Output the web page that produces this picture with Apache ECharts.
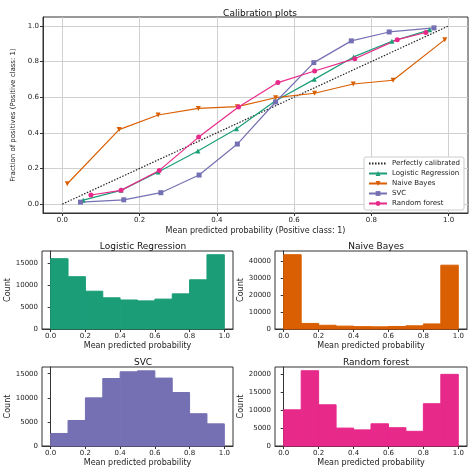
<!DOCTYPE html>
<html><head><meta charset="utf-8">
<script src="https://cdn.jsdelivr.net/npm/echarts@6/dist/echarts.min.js"></script>
<style>html,body{margin:0;padding:0;background:#fff}#main{width:474px;height:474px}</style>
</head><body><div id="main"></div>
<script>
// calibration curves: [mean predicted, fraction of positives]
var lrCurve = [[0.054,0.022],[0.152,0.077],[0.248,0.18],[0.351,0.298],[0.451,0.423],[0.55,0.577],[0.652,0.70],[0.754,0.826],[0.853,0.914],[0.951,0.978]];
var nbCurve = [[0.013,0.114],[0.147,0.418],[0.248,0.50],[0.352,0.537],[0.453,0.547],[0.552,0.597],[0.653,0.622],[0.753,0.674],[0.856,0.695],[0.99,0.923]];
var svcCurve = [[0.047,0.011],[0.159,0.024],[0.255,0.064],[0.354,0.163],[0.453,0.337],[0.552,0.573],[0.651,0.794],[0.748,0.916],[0.846,0.966],[0.962,0.989]];
var rfCurve = [[0.074,0.051],[0.152,0.077],[0.251,0.189],[0.353,0.376],[0.456,0.545],[0.558,0.682],[0.653,0.747],[0.757,0.816],[0.867,0.923],[0.941,0.963]];
var diagonal = [[0,0],[1,1]];

// histogram counts, 10 bins on [0,1]
var binEdges = [0,0.1,0.2,0.3,0.4,0.5,0.6,0.7,0.8,0.9,1.0];
var lrCounts = [16000,11900,8600,7100,6600,6400,6800,8000,11200,16900];
var nbCounts = [44000,3300,2200,1700,1400,1300,1500,1900,3000,37800];
var svcCounts = [2600,5300,10000,14000,15400,15600,14100,11100,6700,4600];
var rfCounts = [10100,21000,11500,5000,4500,6200,5100,4100,11800,20000];

var ticks01 = [0,0.2,0.4,0.6,0.8,1.0];
var colors = ['#1b9e77','#d95f02','#7570b3','#e7298a'];
var font = 'DejaVu Sans';

var myChart = echarts.init(document.getElementById('main'));

function fmt(v){ return v.toFixed(1); }

function xAxisFor(idx, name) {
	return {
		type: 'value', gridIndex: idx, min: -0.05, max: 1.05,
		name: name, nameLocation: 'middle', nameGap: idx == 0 ? 14 : 13,
		nameTextStyle: {fontFamily: font, fontSize: 8, color: '#222'},
		axisLine: {onZero: false, lineStyle: {color: '#333'}},
		axisTick: {customValues: ticks01, length: 3, lineStyle: {color: '#333'}},
		axisLabel: {customValues: ticks01, formatter: fmt, fontFamily: font, fontSize: 7, color: '#222', margin: 4},
		splitLine: {show: idx == 0, lineStyle: {color: '#d0d0d0'}}
	};
}
function yAxisFor(idx, max, interval, name) {
	return {
		type: 'value', gridIndex: idx, min: 0, max: max, interval: interval,
		name: name, nameLocation: 'middle', nameGap: 28,
		nameTextStyle: {fontFamily: font, fontSize: 8, color: '#222'},
		axisLine: {show: true, lineStyle: {color: '#333'}},
		axisTick: {show: true, length: 3, lineStyle: {color: '#333'}},
		axisLabel: {showMaxLabel: false, formatter: function(v){ return String(v); },
			fontFamily: font, fontSize: 7, color: '#222', margin: 4},
		splitLine: {show: false}
	};
}

function histSeries(idx, counts, color) {
	var data = [];
	for (var i = 0; i < counts.length; i++) data.push([binEdges[i], binEdges[i+1], counts[i]]);
	return {
		type: 'custom', xAxisIndex: idx, yAxisIndex: idx, silent: true,
		renderItem: function(params, api) {
			var p0 = api.coord([api.value(0), api.value(2)]);
			var p1 = api.coord([api.value(1), 0]);
			return {type: 'rect', shape: {x: p0[0], y: p0[1], width: p1[0]-p0[0], height: p1[1]-p0[1]},
				style: {fill: color, stroke: color}};
		},
		encode: {x: [0,1], y: 2},
		data: data
	};
}

function lineSeries(name, data, color, symbol) {
	return {name: name, type: 'line', xAxisIndex: 0, yAxisIndex: 0, data: data,
		symbol: symbol, symbolSize: 5, color: color, lineStyle: {width: 1.2, color: color}, itemStyle: {color: color}};
}

var titleStyle = {fontFamily: font, fontSize: 9, fontWeight: 'normal', color: '#111'};
var option = {
	animation: false,
	title: [
		{text: 'Calibration plots', left: 255, top: 4, textAlign: 'center', textStyle: titleStyle},
		{text: 'Logistic Regression', left: 138, top: 237, textAlign: 'center', textStyle: titleStyle},
		{text: 'Naive Bayes', left: 371, top: 237, textAlign: 'center', textStyle: titleStyle},
		{text: 'SVC', left: 138, top: 353, textAlign: 'center', textStyle: titleStyle},
		{text: 'Random forest', left: 371, top: 353, textAlign: 'center', textStyle: titleStyle}
	],
	legend: {
		orient: 'vertical', right: 10, top: 157, itemWidth: 18, itemHeight: 6, itemGap: 3,
		backgroundColor: '#fff', borderColor: '#ccc', borderWidth: 1, borderRadius: 2, padding: [3,4],
		textStyle: {fontFamily: font, fontSize: 7, color: '#222'},
		data: [{name: 'Perfectly calibrated', itemStyle: {opacity: 0}},'Logistic Regression','Naive Bayes','SVC','Random forest']
	},
	grid: [
		{left: 43, right: 6, top: 17, height: 196, containLabel: false, show: true, borderColor: '#333', borderWidth: 1},
		{left: 42, width: 191, top: 251, height: 78, show: true, borderColor: '#333', borderWidth: 1},
		{left: 275, width: 192, top: 251, height: 78, show: true, borderColor: '#333', borderWidth: 1},
		{left: 42, width: 191, top: 367, height: 79, show: true, borderColor: '#333', borderWidth: 1},
		{left: 275, width: 192, top: 367, height: 79, show: true, borderColor: '#333', borderWidth: 1}
	],
	xAxis: [
		xAxisFor(0, 'Mean predicted probability (Positive class: 1)'),
		xAxisFor(1, 'Mean predicted probability'),
		xAxisFor(2, 'Mean predicted probability'),
		xAxisFor(3, 'Mean predicted probability'),
		xAxisFor(4, 'Mean predicted probability')
	],
	yAxis: [
		{type: 'value', gridIndex: 0, min: -0.05, max: 1.05,
			name: 'Fraction of positives (Positive class: 1)', nameLocation: 'middle', nameGap: 24,
			nameTextStyle: {fontFamily: font, fontSize: 7, color: '#222'},
			axisLine: {onZero: false, lineStyle: {color: '#333'}},
			axisTick: {customValues: ticks01, length: 3, lineStyle: {color: '#333'}},
			axisLabel: {customValues: ticks01, formatter: fmt, fontFamily: font, fontSize: 7, color: '#222', margin: 4},
			splitLine: {show: true, lineStyle: {color: '#d0d0d0'}}},
		yAxisFor(1, 17750, 5000, 'Count'),
		yAxisFor(2, 46200, 10000, 'Count'),
		yAxisFor(3, 16400, 5000, 'Count'),
		yAxisFor(4, 22050, 5000, 'Count')
	],
	series: [
		{name: 'Perfectly calibrated', type: 'line', xAxisIndex: 0, yAxisIndex: 0, data: diagonal, symbol: 'none',
			color: '#222', lineStyle: {type: [1.5,1.5], width: 1.2, color: '#222'}},
		lineSeries('Logistic Regression', lrCurve, colors[0], 'triangle'),
		lineSeries('Naive Bayes', nbCurve, colors[1], 'path://M0,0 L10,0 L5,9 Z'),
		lineSeries('SVC', svcCurve, colors[2], 'rect'),
		lineSeries('Random forest', rfCurve, colors[3], 'circle'),
		histSeries(1, lrCounts, colors[0]),
		histSeries(2, nbCounts, colors[1]),
		histSeries(3, svcCounts, colors[2]),
		histSeries(4, rfCounts, colors[3])
	]
};
myChart.setOption(option);
</script>
</body></html>
